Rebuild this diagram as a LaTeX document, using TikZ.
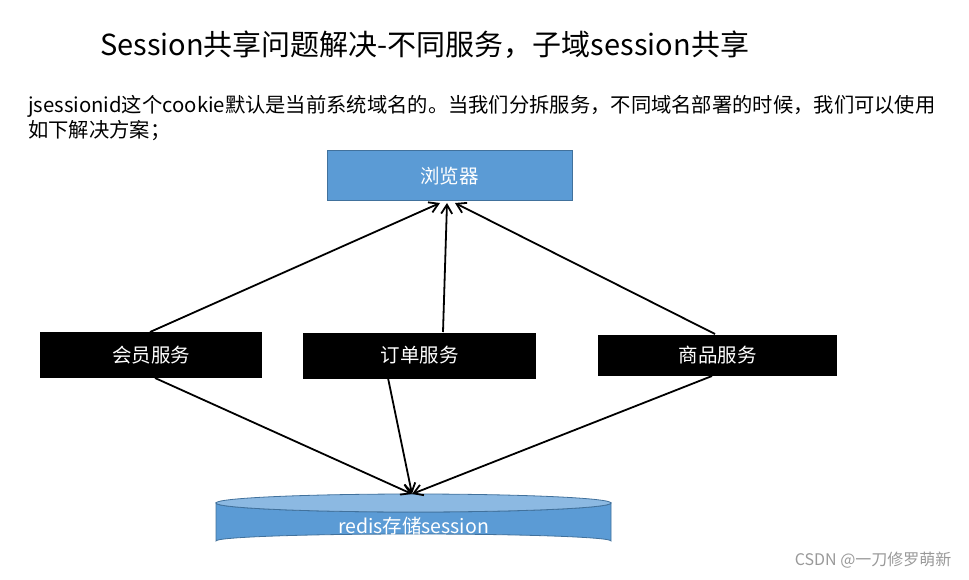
\documentclass[tikz,border=0pt]{standalone}
\usepackage{fontspec}
\setmainfont{Noto Sans CJK SC}
\usetikzlibrary{arrows.meta}
\definecolor{bl}{HTML}{5B9BD5}
\definecolor{bld}{HTML}{41719C}
\begin{document}
\begin{tikzpicture}[x=1pt,y=-1pt,
 svc/.style={fill=black,text=white,minimum height=46pt,inner sep=0pt,font=\fontsize{19.5}{22}\selectfont},
 arr/.style={draw=black,line width=1.8pt,-{Straight Barb[length=9pt,width=11pt,line width=1.8pt]}}]
\useasboundingbox (0,0) rectangle (969,580);
\node[anchor=west,inner sep=0pt,font=\fontsize{29}{33}\selectfont] (t) at (100,45) {Session共享问题解决-不同服务，子域session共享};
\node[anchor=north west,align=left,inner sep=0pt,font=\fontsize{20.3}{25}\selectfont] (s) at (28,95) {jsessionid这个cookie默认是当前系统域名的。当我们分拆服务，不同域名部署的时候，我们可以使用\\如下解决方案；};
\node[fill=bl,draw=bld,line width=1pt,minimum width=245pt,minimum height=50pt,text=white,font=\fontsize{19.5}{22}\selectfont] (b) at (449.5,176) {浏览器};
\node[svc,minimum width=222pt] (m) at (151,355) {会员服务};
\node[svc,minimum width=233pt] (o) at (419.5,355.5) {订单服务};
\node[svc,minimum width=239pt,minimum height=41pt] (p) at (717.5,355.5) {商品服务};
% cylinder
\fill[bl,draw=bld,line width=0.8pt] (216,503) -- (216,541) arc[start angle=180,end angle=360,x radius=197.5,y radius=7] -- (611,503) arc[start angle=0,end angle=180,x radius=197.5,y radius=9] -- cycle;
\fill[bl!70!white,draw=bld,line width=0.8pt] (413.5,503) ellipse[x radius=197.5,y radius=9];
\node[text=white,font=\fontsize{19.5}{22}\selectfont] (r) at (413.5,526) {redis存储session};
\coordinate (rt) at (412,494);
\draw[arr] (150,332) -- (440,203);
\draw[arr] (443,332) -- (447,203);
\draw[arr] (715,334) -- (455,203);
\draw[arr] (155,378) -- (rt);
\draw[arr] (388,378) -- (rt);
\draw[arr] (712,376) -- (rt);
\node[anchor=east,text=gray!80,font=\fontsize{16}{18}\selectfont] (w) at (955,560) {CSDN @一刀修罗萌新};
\end{tikzpicture}
\end{document}
